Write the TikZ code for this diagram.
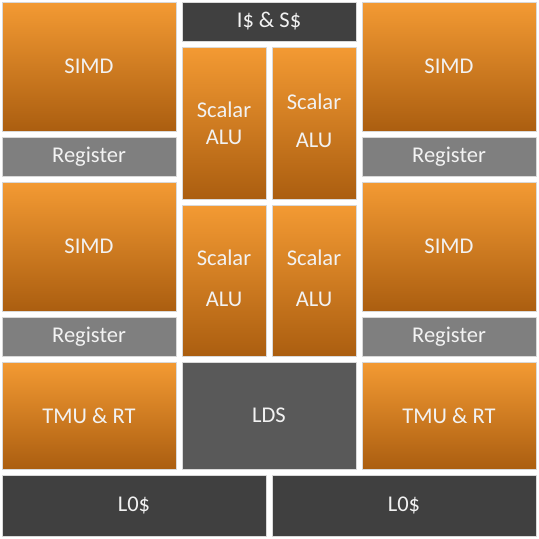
\documentclass[tikz,border=0pt]{standalone}
\usepackage{fontspec}
\setmainfont{Carlito}
\definecolor{otop}{HTML}{F39A33}
\definecolor{obot}{HTML}{AB5E10}
\definecolor{regc}{HTML}{7F7F7F}
\definecolor{darkc}{HTML}{404040}
\definecolor{ldsc}{HTML}{595959}
\definecolor{edgec}{HTML}{D9D9D9}
\definecolor{txtc}{HTML}{F2F2F2}
\tikzset{
  lbl/.style={text=txtc, font=\fontsize{22.5}{27}\selectfont, align=center, inner sep=0pt},
  blk/.style={draw=edgec, line width=0.8pt, inner sep=0pt, outer sep=0pt, lbl, minimum width=#1},
  orangebox/.style={blk=174pt, top color=otop, bottom color=obot},
  aluBox/.style={blk=84pt, top color=otop, bottom color=obot, minimum height=152pt},
  regbox/.style={blk=174pt, fill=regc, minimum height=39pt},
  darkbox/.style={blk=#1, fill=darkc},
}
\begin{document}
\begin{tikzpicture}[x=1pt,y=-1pt]
\useasboundingbox[fill=white] (0,0) rectangle (539,539);
% left column
\node[orangebox, minimum height=129pt] (simdA) at (89,66.5) {SIMD};
\node[regbox] (regA) at (89,156.5) {Register};
\node[orangebox, minimum height=129pt] (simdB) at (89,246.5) {SIMD};
\node[regbox] (regB) at (89,336.5) {Register};
\node[orangebox, minimum height=107pt] (tmuA) at (89,415.5) {TMU \& RT};
% right column
\node[orangebox, minimum height=129pt] (simdC) at (449,66.5) {SIMD};
\node[regbox] (regC) at (449,156.5) {Register};
\node[orangebox, minimum height=129pt] (simdD) at (449,246.5) {SIMD};
\node[regbox] (regD) at (449,336.5) {Register};
\node[orangebox, minimum height=107pt] (tmuB) at (449,415.5) {TMU \& RT};
% middle column
\node[darkbox=174pt, minimum height=39pt] (isc) at (269,21.5) {I\$ \& S\$};
\node[aluBox] (aluA) at (224,123) {Scalar\\ALU};
\node[aluBox] (aluB) at (314,123) {};
\node[lbl] (aluBt) at ([yshift=2.5pt]aluB.center) {Scalar\\[11pt]ALU};
\node[aluBox, minimum height=151pt] (aluC) at (224,280.5) {};
\node[lbl] (aluCt) at ([yshift=2pt]aluC.center) {Scalar\\[14pt]ALU};
\node[aluBox, minimum height=151pt] (aluD) at (314,280.5) {};
\node[lbl] (aluDt) at ([yshift=2pt]aluD.center) {Scalar\\[14pt]ALU};
\node[blk=174pt, fill=ldsc, minimum height=107pt] (lds) at (269,415.5) {LDS};
% bottom
\node[darkbox=264pt, minimum height=61pt] (l0a) at (134,505.5) {L0\$};
\node[darkbox=264pt, minimum height=61pt] (l0b) at (404,505.5) {L0\$};
\end{tikzpicture}
\end{document}
